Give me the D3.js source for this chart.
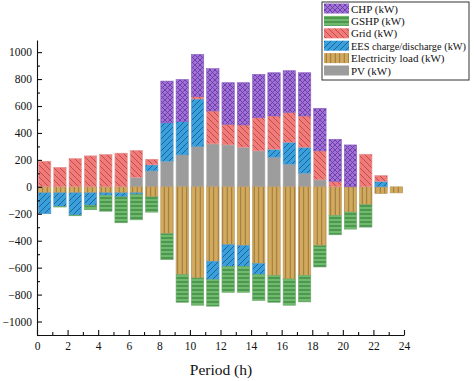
<!DOCTYPE html>
<html><head><meta charset="utf-8">
<script src="https://cdn.jsdelivr.net/npm/d3@7"></script>
<style>body{margin:0;background:#fff}svg{display:block}text{font-family:"Liberation Serif","Times New Roman",serif}</style>
</head><body><svg id="c" width="474" height="381"></svg>
<script>
const periods = d3.range(24);
const PV   = [0,0,0,0,0,0,70,118,190,237,299,319,311,294,267,220,168,101,52,0,0,0,0,0];
const EES  = [-155,-100,-165,-93,-20,-30,-10,45,285,247,353,-136,-160,-155,-82,59,163,193,0,0,0,0,40,0];
const Grid = [190,145,210,230,240,250,200,42,0,0,17,244,153,165,246,247,220,232,215,40,0,242,44,0];
const CHP  = [0,0,0,0,0,0,0,0,310,313,314,314,309,314,322,321,311,321,316,313,311,0,0,0];
const Load = [-45,-45,-45,-45,-45,-45,-45,-75,-348,-652,-677,-553,-430,-435,-570,-659,-684,-657,-437,-212,-188,-133,-50,-45];
const GSHP = [0,-5,-5,-32,-116,-192,-190,-113,-193,-205,-202,-197,-193,-193,-192,-198,-195,-197,-158,-144,-126,-166,0,0];
const xTicks = d3.range(0,25,2);
const yTicks = d3.range(-1000,1001,200);
const legendNames = ["CHP (kW)","GSHP (kW)","Grid (kW)","EES charge/discharge (kW)","Electricity load (kW)","PV (kW)"];

const svg = d3.select("#c");
const x = d3.scaleLinear().domain([0,24]).range([37,404]);
const y = d3.scaleLinear().domain([-1100,1090]).range([335,40]);

const defs = svg.append("defs");
function pat(id, bg, fg, size, lines){
  const p = defs.append("pattern").attr("id",id).attr("patternUnits","userSpaceOnUse")
    .attr("width",size).attr("height",size);
  p.append("rect").attr("width",size).attr("height",size).attr("fill",bg);
  lines.forEach(l=>p.append("line").attr("x1",l[0]).attr("y1",l[1]).attr("x2",l[2]).attr("y2",l[3])
    .attr("stroke",fg).attr("stroke-width",l[4]||0.9));
}
pat("pCHP","#a072d6","#6a3aa6",5,[[0,0,5,5],[0,5,5,0],[-1,1,1,-1],[4,6,6,4],[-1,4,1,6],[4,-1,6,1]]);
pat("pGSHP","#6dbb6b","#2f7236",4,[[0,2,4,2,1]]);
pat("pGrid","#f07b78","#b84848",6,[[0,0,6,6],[-1,5,1,7],[5,-1,7,1]]);
pat("pEES","#39a0dc","#1b5d94",6,[[0,6,6,0],[-1,1,1,-1],[5,7,7,5]]);
pat("pLoad","#d2aa5e","#8a6630",4.5,[[2.2,0,2.2,4.5,0.8]]);
pat("pPV","#9c9c9c","#9c9c9c",4,[]);

const keys = ["PV","Load","EES","Grid","CHP","GSHP"];
const src = {PV,Load,EES,Grid,CHP,GSHP};
const fills = {PV:"url(#pPV)",Load:"url(#pLoad)",EES:"url(#pEES)",Grid:"url(#pGrid)",CHP:"url(#pCHP)",GSHP:"url(#pGSHP)"};
const edges = {PV:"#b0b0b0",Load:"#b8955a",EES:"#5a9ccc",Grid:"#e09a98",CHP:"#8a60c0",GSHP:"#70a870"};
const rows = periods.map(i=>{const o={p:i}; keys.forEach(k=>o[k]=src[k][i]); return o;});
const stack = d3.stack().keys(keys).offset(d3.stackOffsetDiverging)(rows);

const bw = (x(1)-x(0))*0.81;
stack.forEach(s=>{
  svg.append("g").selectAll("rect").data(s.filter(d=>d[1]!==d[0])).join("rect")
    .attr("x",d=>x(d.data.p+0.5)-bw/2).attr("width",bw)
    .attr("y",d=>y(Math.max(d[0],d[1]))).attr("height",d=>Math.abs(y(d[0])-y(d[1])))
    .attr("fill",fills[s.key]).attr("stroke",edges[s.key]).attr("stroke-width",0.6);
});

// axes
svg.append("g").attr("transform","translate(37,0)")
  .call(d3.axisLeft(y).tickValues(yTicks).tickSizeInner(-5).tickSizeOuter(0).tickPadding(5).tickFormat(d3.format("d")));
svg.append("g").attr("transform","translate(37,0)")
  .call(d3.axisLeft(y).tickValues(d3.range(-1100,1001,200)).tickSizeInner(-3).tickSizeOuter(0).tickFormat(""))
  .select(".domain").remove();
svg.append("g").attr("transform","translate(0,335)")
  .call(d3.axisBottom(x).tickValues(xTicks).tickSizeInner(-5).tickSizeOuter(0).tickPadding(7));
svg.append("g").attr("transform","translate(0,335)")
  .call(d3.axisBottom(x).tickValues(d3.range(1,24,2)).tickSizeInner(-3).tickSizeOuter(0).tickFormat(""))
  .select(".domain").remove();
svg.selectAll(".tick text").attr("font-size",11.5).attr("fill","#111");
svg.selectAll(".domain, .tick line").attr("stroke","#111").attr("stroke-width",1.1);

svg.append("text").attr("x",221).attr("y",375).attr("text-anchor","middle")
  .attr("font-size",15.5).attr("fill","#111").text("Period (h)");

// legend
const lg = svg.append("g");
lg.append("rect").attr("x",322).attr("y",2).attr("width",147).attr("height",78)
  .attr("fill","#fff").attr("stroke","#333").attr("stroke-width",1);
const lf = ["CHP","GSHP","Grid","EES","Load","PV"];
legendNames.forEach((n,i)=>{
  const cy = 8.5 + i*12.4;
  lg.append("rect").attr("x",324).attr("y",cy-5).attr("width",25).attr("height",10)
    .attr("fill",fills[lf[i]]);
  const t = lg.append("text").attr("x",351).attr("y",cy+4).attr("font-size",11).attr("fill","#111").text(n);
  const w = t.node().getComputedTextLength();
  if (w > 115) t.attr("textLength",115).attr("lengthAdjust","spacingAndGlyphs");
});
</script></body></html>
